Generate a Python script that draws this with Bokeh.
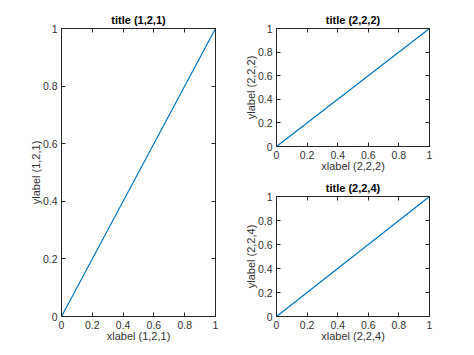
from bokeh.plotting import figure
from bokeh.models import Range1d, FixedTicker, LinearAxis, Title
from bokeh.layouts import row, column
from bokeh.embed import file_html
from bokeh.resources import INLINE

# data
x_vals = [0, 1]
y_vals = [0, 1]
tick_values = [0, 0.2, 0.4, 0.6, 0.8, 1]
tick_labels = ["0", "0.2", "0.4", "0.6", "0.8", "1"]
titles = ["title (1,2,1)", "title (2,2,2)", "title (2,2,4)"]
xlabels = ["xlabel (1,2,1)", "xlabel (2,2,2)", "xlabel (2,2,4)"]
ylabels = ["ylabel (1,2,1)", "ylabel (2,2,2)", "ylabel (2,2,4)"]

FONT = "Liberation Sans"
AX = "#262626"
LINE = "#0072BD"
overrides = {v: l for v, l in zip(tick_values, tick_labels)}


def style_axis(ax, labels=True):
    ax.ticker = FixedTicker(ticks=tick_values)
    ax.major_label_overrides = overrides
    ax.major_tick_in = 4
    ax.major_tick_out = 0
    ax.minor_tick_line_color = None
    ax.axis_line_color = AX
    ax.major_tick_line_color = AX
    ax.major_label_text_font = FONT
    ax.major_label_text_color = "#333333"
    ax.axis_label_text_font = FONT
    ax.axis_label_text_font_style = "normal"
    ax.axis_label_text_color = "#333333"
    ax.axis_label_text_font_size = "11px"
    if labels:
        ax.major_label_text_font_size = "10.5px"
        ax.major_label_standoff = 4
        ax.axis_label_standoff = -2
    else:
        ax.major_label_text_font_size = "0px"
        ax.major_label_standoff = 0
        ax.major_label_text_alpha = 0


def make(i, w, h, bl, br, bt, bb):
    p = figure(width=w, height=h, output_backend="svg", toolbar_location=None,
               x_range=Range1d(0, 1), y_range=Range1d(0, 1),
               min_border_left=bl, min_border_right=br,
               min_border_top=bt, min_border_bottom=bb,
               x_axis_label=xlabels[i], y_axis_label=ylabels[i])
    p.grid.visible = False
    p.outline_line_color = AX
    p.outline_line_alpha = 1
    p.background_fill_color = "white"
    p.border_fill_color = "white"
    for ax in p.xaxis + p.yaxis:
        style_axis(ax)
    top = LinearAxis()
    style_axis(top, labels=False)
    p.add_layout(top, "above")
    right = LinearAxis()
    style_axis(right, labels=False)
    p.add_layout(right, "right")
    t = Title(text=titles[i], align="center", text_font=FONT,
              text_font_size="11px", text_font_style="bold",
              text_color="black", standoff=5, offset=0)
    p.add_layout(t, "above")
    p.line(x_vals, y_vals, line_color=LINE, line_width=1.2)
    return p


p1 = make(0, 240, 355, 61, 25, 28, 39)
p2 = make(1, 234, 175, 36, 45, 28, 29)
p3 = make(2, 234, 180, 36, 45, 21, 39)

p = row(p1, column(p2, p3))
open("out.html", "w").write(file_html(p, INLINE))
